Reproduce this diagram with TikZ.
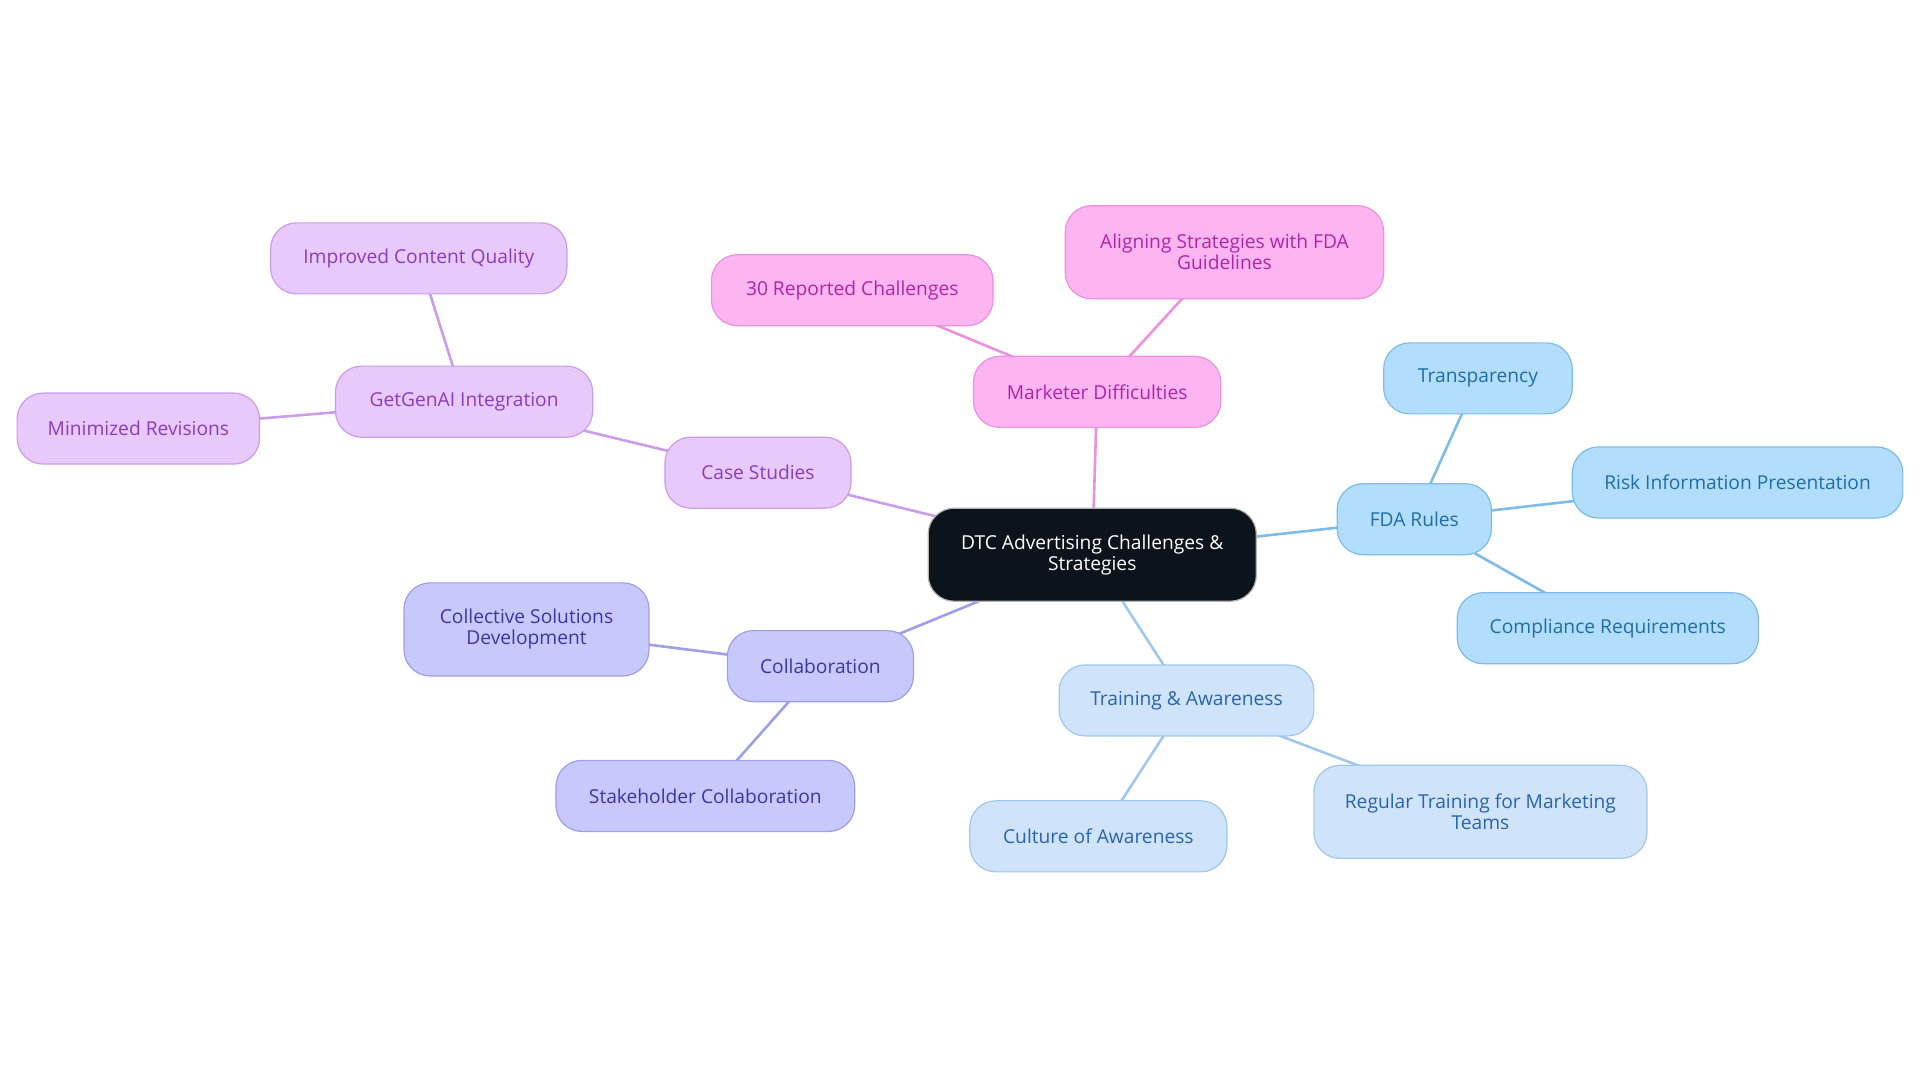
\documentclass[tikz,border=0pt]{standalone}
\usepackage{fontspec}
\setmainfont{Open Sans}
\usetikzlibrary{backgrounds}
\definecolor{pkF}{HTML}{FDB5F1}\definecolor{pkD}{HTML}{EE8FE0}\definecolor{pkT}{HTML}{B024A8}
\definecolor{puF}{HTML}{E8C9FB}\definecolor{puD}{HTML}{CB9CEA}\definecolor{puT}{HTML}{8A3CC0}
\definecolor{inF}{HTML}{C7C9FD}\definecolor{inD}{HTML}{9D9FE8}\definecolor{inT}{HTML}{3B36A8}
\definecolor{lbF}{HTML}{CFE3FB}\definecolor{lbD}{HTML}{A0C7EE}\definecolor{lbT}{HTML}{2A64B0}
\definecolor{blF}{HTML}{B3DDFC}\definecolor{blD}{HTML}{7DBCEA}\definecolor{blT}{HTML}{1F6EA8}
\definecolor{ctr}{HTML}{0B141B}
\tikzset{
 box/.style={rounded corners=13pt, line width=0.6pt, align=center, inner sep=0pt, font=\fontsize{9.6pt}{10.5pt}\selectfont},
 pkbox/.style={box, fill=pkF, draw=pkD, text=pkT},
 pubox/.style={box, fill=puF, draw=puD, text=puT},
 inbox/.style={box, fill=inF, draw=inD, text=inT},
 lbbox/.style={box, fill=lbF, draw=lbD, text=lbT},
 blbox/.style={box, fill=blF, draw=blD, text=blT},
 ed/.style={line width=1.3pt},
}
\begin{document}
\begin{tikzpicture}[x=0.6122pt,y=-0.6122pt]
\useasboundingbox (0,0) rectangle (1568,884.4);
\node[box, fill=ctr, draw=gray!60, text=white, minimum width=268*0.6122pt, minimum height=76*0.6122pt] (c) at (892,453) {DTC Advertising Challenges \&\\Strategies};
\def\nd#1#2#3#4#5#6#7{\node[#1, minimum width=#4*0.6122pt, minimum height=#5*0.6122pt] (#6) at (#2,#3) {#7};}
\nd{pkbox}{896}{320}{202}{58}{md}{Marketer Difficulties}
\nd{pkbox}{696}{237}{230}{58}{rc}{30 Reported Challenges}
\nd{pkbox}{1000}{206}{260}{76}{as}{Aligning Strategies with FDA\\Guidelines}
\nd{pubox}{619}{386}{152}{58}{cs}{Case Studies}
\nd{pubox}{379}{328}{210}{58}{gg}{GetGenAI Integration}
\nd{pubox}{342}{211}{242}{58}{ic}{Improved Content Quality}
\nd{pubox}{113}{350}{198}{58}{mr}{Minimized Revisions}
\nd{inbox}{670}{544}{152}{58}{co}{Collaboration}
\nd{inbox}{430}{514}{200}{76}{csd}{Collective Solutions\\Development}
\nd{inbox}{576}{650}{244}{58}{sc}{Stakeholder Collaboration}
\nd{lbbox}{969}{572}{208}{58}{ta}{Training \& Awareness}
\nd{lbbox}{897}{683}{210}{58}{ca}{Culture of Awareness}
\nd{lbbox}{1209}{663}{272}{76}{rt}{Regular Training for Marketing\\Teams}
\nd{blbox}{1155}{424}{126}{58}{fr}{FDA Rules}
\nd{blbox}{1207}{309}{154}{58}{tr}{Transparency}
\nd{blbox}{1419}{394}{270}{58}{ri}{Risk Information Presentation}
\nd{blbox}{1313}{513}{246}{58}{cr}{Compliance Requirements}
\begin{pgfonlayer}{background}
\draw[ed, pkD] (c.center) -- (md.center) (md.center) -- (rc.center) (md.center) -- (as.center);
\draw[ed, puD] (c.center) -- (cs.center) (cs.center) -- (gg.center) (gg.center) -- (ic.center) (gg.center) -- (mr.center);
\draw[ed, inD] (c.center) -- (co.center) (co.center) -- (csd.center) (co.center) -- (sc.center);
\draw[ed, lbD] (c.center) -- (ta.center) (ta.center) -- (ca.center) (ta.center) -- (rt.center);
\draw[ed, blD] (c.center) -- (fr.center) (fr.center) -- (tr.center) (fr.center) -- (ri.center) (fr.center) -- (cr.center);
\end{pgfonlayer}
\end{tikzpicture}
\end{document}
